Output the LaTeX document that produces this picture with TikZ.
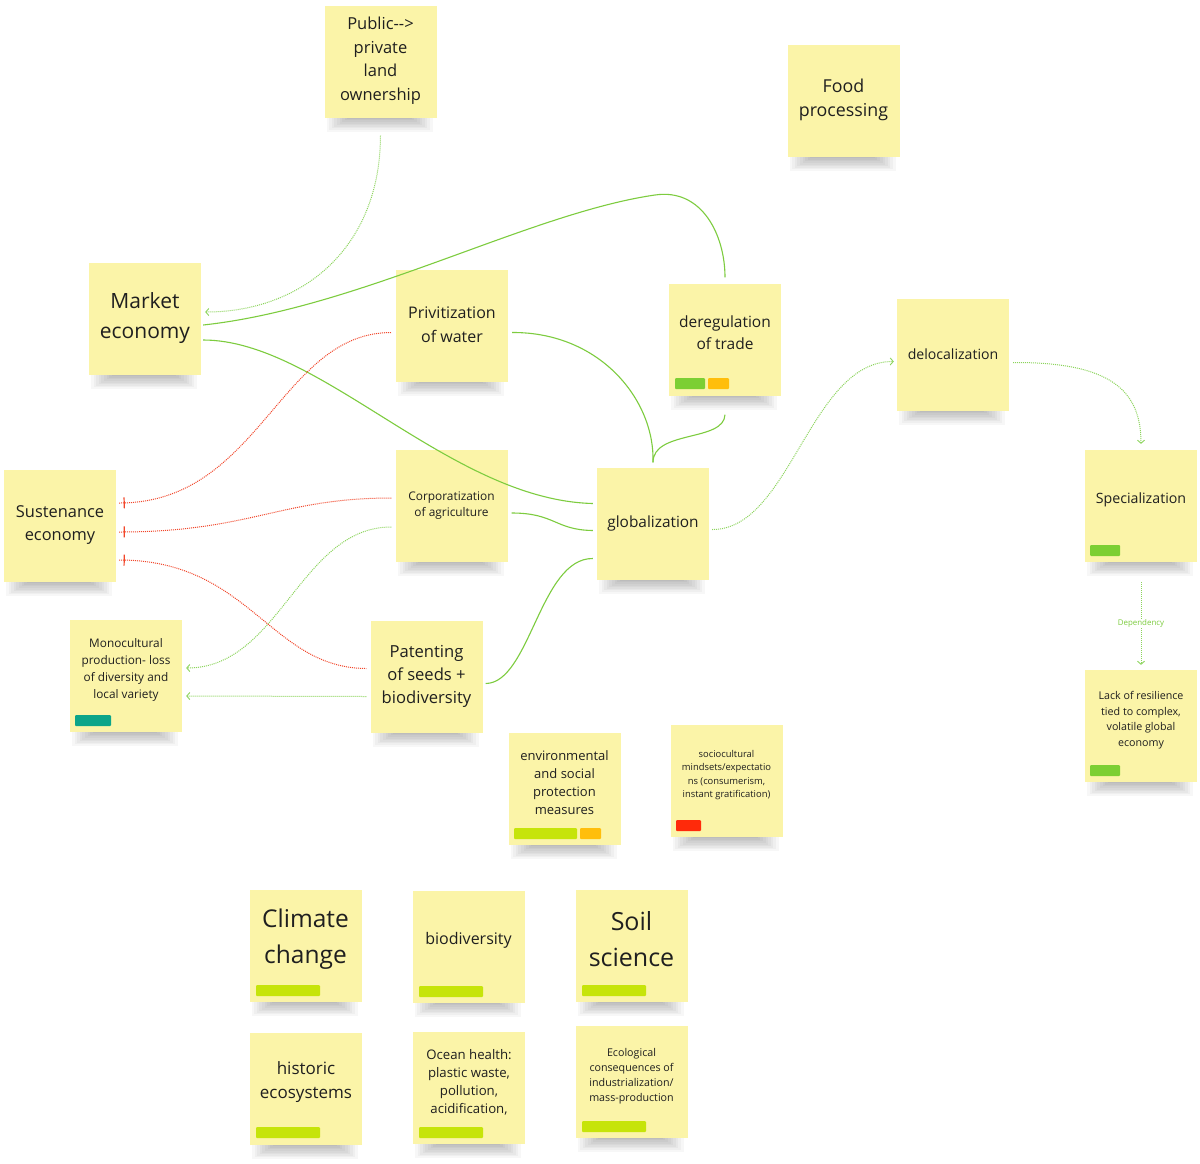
\documentclass[tikz,border=0pt]{standalone}
\usepackage{fontspec}
\setmainfont{Open Sans}
\usetikzlibrary{arrows.meta,calc,decorations.markings}

\definecolor{notey}{HTML}{FBF4A8}
\definecolor{gsolid}{HTML}{7DCC3F}
\definecolor{gdot}{HTML}{8CD45C}
\definecolor{rdot}{HTML}{F2462A}
\definecolor{tgreen}{HTML}{7CCF33}
\definecolor{tlime}{HTML}{C6E40A}
\definecolor{torange}{HTML}{FFBE0B}
\definecolor{tteal}{HTML}{0CA589}
\definecolor{tred}{HTML}{FF2A0A}

\tikzset{
 note/.style={fill=notey, minimum width=112pt, minimum height=112pt, inner sep=0pt, draw=none},
 notetext/.style={align=center, text=black!88, inner sep=0pt},
 solidlink/.style={draw=gsolid, line width=1.1pt},
 dotlink/.style={draw=gdot, line width=1pt, dash pattern=on 1pt off 1pt},
 redlink/.style={draw=rdot, line width=1pt, dash pattern=on 1pt off 1pt},
 arrowend/.style={-{Straight Barb[length=3pt,width=7pt,line width=0.9pt]}},
 barstart/.style={postaction={decorate, decoration={markings, mark=at position 5pt with {\draw[rdot, solid, line width=1.2pt] (0,-5.5pt) -- (0,5.5pt);}}}},
 tagbox/.style={rounded corners=1pt},
}

% name, cx, cy, text dy, font size, baselineskip, text
\newcommand{\sticky}[7]{%
  \foreach \i in {0,...,11}{\fill[black,opacity=0.032] ({#2-54+2.6*\i},{#3+46}) rectangle ({#2+52-2.6*\i},{#3+70-1.6*\i});}
  \node[note] (#1) at (#2,#3) {};
  \node[notetext, font=\fontsize{#5}{#6}\selectfont] (#1t) at ({#2},{#3+#4+3}) {#7};
}

\begin{document}
\begin{tikzpicture}[x=1pt,y=-1pt]
\useasboundingbox[fill=white] (0,0) rectangle (1200,1163);

\sticky{pub}{380.5}{61.5}{-4}{16.5}{23.5}{Public-{}->\\private\\land\\ownership}
\sticky{food}{843.5}{101}{-4}{17.8}{24}{Food\\processing}
\sticky{mkt}{145}{319}{-4}{21}{30}{Market\\economy}
\sticky{wat}{452}{325.5}{-3.5}{16}{24}{Privitization\\of water}
\sticky{dereg}{725}{339.5}{-9.5}{15.5}{22}{deregulation\\of trade}
\sticky{deloc}{953}{354.5}{-3.5}{14.1}{20}{delocalization}
\sticky{sust}{60}{526}{-3.5}{16.4}{23}{Sustenance\\economy}
\sticky{corp}{451.5}{506}{-3}{11.9}{16}{Corporatization\\of agriculture}
\sticky{glob}{653}{523.5}{-3.5}{15.4}{22}{globalization}
\sticky{spec}{1141}{506}{-9}{14.2}{20}{Specialization}
\sticky{mono}{126}{676}{-9}{11.8}{16.8}{Monocultural\\production- loss\\of diversity and\\local variety}
\sticky{pat}{426.5}{676.5}{-3.5}{16.6}{23}{Patenting\\of seeds +\\biodiversity}
\sticky{env}{564.5}{789}{-9}{13}{18}{environmental\\and social\\protection\\measures}
\sticky{soc}{726.5}{781}{-9}{9.4}{13.4}{sociocultural\\mindsets/expectatio\\ns (consumerism,\\instant gratification)}
\sticky{lack}{1141}{726}{-9}{10.7}{15.5}{Lack of resilience\\tied to complex,\\volatile global\\economy}
\sticky{clim}{305.5}{946}{-10}{24.5}{36}{Climate\\change}
\sticky{bio}{468.5}{946.5}{-9.5}{16}{22}{biodiversity}
\sticky{soil}{631.5}{946}{-10}{25}{36}{Soil\\science}
\sticky{hist}{306}{1089}{-10}{17}{24}{historic\\ecosystems}
\sticky{ocean}{469}{1088}{-9}{13.2}{18}{Ocean health:\\plastic waste,\\pollution,\\acidification,}
\sticky{eco}{631.5}{1081.5}{-8}{10.7}{15}{Ecological\\consequences of\\industrialization/\\mass-production}

% tags
\fill[tgreen,tagbox] (675,378) rectangle (705,389);
\fill[torange,tagbox] (708,378) rectangle (729,389);
\fill[tgreen,tagbox] (1090,545) rectangle (1120,556);
\fill[tteal,tagbox] (75,715) rectangle (111,726);
\fill[tlime,tagbox] (514,828) rectangle (577,839);
\fill[torange,tagbox] (580,828) rectangle (601,839);
\fill[tred,tagbox] (676,820) rectangle (701,831);
\fill[tgreen,tagbox] (1090,765) rectangle (1120,776);
\fill[tlime,tagbox] (256,985) rectangle (320,996);
\fill[tlime,tagbox] (419,986) rectangle (483,997);
\fill[tlime,tagbox] (582,985) rectangle (646,996);
\fill[tlime,tagbox] (256,1127) rectangle (320,1138);
\fill[tlime,tagbox] (419,1127) rectangle (483,1138);
\fill[tlime,tagbox] (582,1121) rectangle (646,1132);

% solid green links
\draw[solidlink] ($(mkt.east)+(2,6)$) .. controls (360,308) and (530,213) .. (655,195)
   .. controls (702,188) and (725,235) .. ($(dereg.north)+(0,-6)$);
\draw[solidlink] ($(mkt.east)+(2,21)$) .. controls (320,340) and (450,500) .. ($(glob.west)+(-4,-20)$);
\draw[solidlink] ($(wat.east)+(4,7)$) .. controls (600,332) and (655,400) .. ($(glob.north)+(0,-5)$);
\draw[solidlink] ($(dereg.south)+(0,19)$) .. controls (724,442) and (653,430) .. ($(glob.north)+(0,-5)$);
\draw[solidlink] ($(corp.east)+(4,7)$) .. controls (555,513) and (555,530) .. ($(glob.west)+(-4,7)$);
\draw[solidlink] ($(pat.east)+(3,7)$) .. controls (530,683) and (540,558) .. ($(glob.west)+(-4,35)$);

% dotted green links
\draw[dotlink,arrowend] ($(pub.south)+(0,18)$) .. controls (380,250) and (300,312) .. ($(mkt.east)+(4,-7)$);
\draw[dotlink,arrowend] ($(glob.east)+(3,6)$) .. controls (790,530) and (810,361) .. ($(deloc.west)+(-3,7)$);
\draw[dotlink,arrowend] ($(deloc.east)+(4,8)$) .. controls (1110,362) and (1141,390) .. ($(spec.north)+(0,-6)$);
\draw[dotlink,arrowend] ($(spec.south)+(0,20)$) -- node[fill=white, inner sep=1pt, text=gsolid, font=\fontsize{7.9}{9}\selectfont] (deplabel) {Dependency} ($(lack.north)+(0,-5)$);
\draw[dotlink,arrowend] ($(corp.west)+(-4,21)$) .. controls (300,527) and (280,668) .. ($(mono.east)+(4,-8)$);
\draw[dotlink,arrowend] ($(pat.west)+(-4,20)$) -- ($(mono.east)+(4,20)$);

% red dotted links (bar at sustenance side)
\draw[redlink,barstart] ($(sust.east)+(3,-23)$) .. controls (260,503) and (280,332) .. ($(wat.west)+(-4,7)$);
\draw[redlink,barstart] ($(sust.east)+(3,6)$) .. controls (250,532) and (280,498) .. ($(corp.west)+(-4,-8)$);
\draw[redlink,barstart] ($(sust.east)+(3,34)$) .. controls (250,560) and (270,668) .. ($(pat.west)+(-4,-8)$);
\end{tikzpicture}
\end{document}
